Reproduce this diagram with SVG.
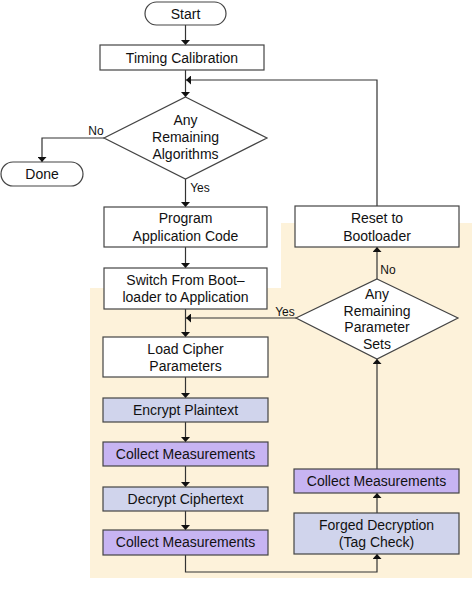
<svg xmlns="http://www.w3.org/2000/svg" width="474" height="604" viewBox="0 0 474 604">
<defs>
<style>
text{font-family:"Liberation Sans",Arial,sans-serif;font-size:14px;fill:#111;text-anchor:middle;dominant-baseline:central}
.lbl{font-size:12px}
.box{fill:#fff;stroke:#444;stroke-width:1.2}
.enc{fill:#d0d4ec;stroke:#444;stroke-width:1.2}
.col{fill:#c7b4f2;stroke:#444;stroke-width:1.2}
.ln{fill:none;stroke:#333;stroke-width:1.2}
</style>
<marker id="ah" viewBox="0 0 10 10" refX="10" refY="5" markerWidth="5" markerHeight="9" markerUnits="userSpaceOnUse" orient="auto" preserveAspectRatio="none">
<path d="M0,0 L10,5 L0,10 Z" fill="#111"/>
</marker>
</defs>
<rect width="474" height="604" fill="#fff"/>
<path d="M281,223 H472 V578 H90 V288 H281 Z" fill="#fdf2da"/>
<g id="connectors">
<line class="ln" x1="185.5" y1="25" x2="185.5" y2="45" marker-end="url(#ah)"/>
<line class="ln" x1="185.5" y1="70" x2="185.5" y2="97" marker-end="url(#ah)"/>
<polyline class="ln" points="377,206 377,80 186,80" marker-end="url(#ah)"/>
<polyline class="ln" points="104,138 42,138 42,162" marker-end="url(#ah)"/>
<line class="ln" x1="185.5" y1="179" x2="185.5" y2="207" marker-end="url(#ah)"/>
<line class="ln" x1="185.5" y1="247" x2="185.5" y2="268" marker-end="url(#ah)"/>
<line class="ln" x1="185.5" y1="309" x2="185.5" y2="337" marker-end="url(#ah)"/>
<line class="ln" x1="296" y1="318" x2="186" y2="318" marker-end="url(#ah)"/>
<line class="ln" x1="377" y1="279" x2="377" y2="247" marker-end="url(#ah)"/>
<line class="ln" x1="185.5" y1="377" x2="185.5" y2="398" marker-end="url(#ah)"/>
<line class="ln" x1="185.5" y1="422" x2="185.5" y2="442" marker-end="url(#ah)"/>
<line class="ln" x1="185.5" y1="466" x2="185.5" y2="487" marker-end="url(#ah)"/>
<line class="ln" x1="185.5" y1="511" x2="185.5" y2="530" marker-end="url(#ah)"/>
<polyline class="ln" points="185.5,555 185.5,572 377,572 377,554" marker-end="url(#ah)"/>
<line class="ln" x1="377" y1="513" x2="377" y2="493" marker-end="url(#ah)"/>
<line class="ln" x1="377" y1="469" x2="377" y2="359" marker-end="url(#ah)"/>
<text class="lbl" x="96" y="131">No</text>
<text class="lbl" x="200" y="188">Yes</text>
<text class="lbl" x="388" y="270">No</text>
<text class="lbl" x="285" y="312">Yes</text>
</g>
<g id="start"><rect class="box" x="145" y="2" width="81" height="23" rx="11.5"/><text x="185.5" y="14">Start</text></g>
<g id="timing"><rect class="box" x="100" y="45" width="164" height="25"/><text x="182" y="58">Timing Calibration</text></g>
<g id="dec1"><polygon class="box" points="185.5,97 267,138 185.5,179 104,138"/><text x="185.5" y="120">Any</text><text x="185.5" y="137">Remaining</text><text x="185.5" y="154">Algorithms</text></g>
<g id="done"><rect class="box" x="1" y="162" width="82" height="24" rx="12"/><text x="42" y="174">Done</text></g>
<g id="program"><rect class="box" x="104" y="207" width="163" height="40"/><text x="185.5" y="218">Program</text><text x="185.5" y="236">Application Code</text></g>
<g id="reset"><rect class="box" x="295" y="206" width="164" height="41"/><text x="377" y="218">Reset to</text><text x="377" y="236">Bootloader</text></g>
<g id="switch"><rect class="box" x="104" y="268" width="163" height="41"/><text x="185.5" y="280">Switch From Boot–</text><text x="185.5" y="297">loader to Application</text></g>
<g id="dec2"><polygon class="box" points="377,279 458,318 377,359 296,318"/><text x="377" y="294">Any</text><text x="377" y="311">Remaining</text><text x="377" y="327">Parameter</text><text x="377" y="344">Sets</text></g>
<g id="load"><rect class="box" x="103" y="337" width="165" height="40"/><text x="185.5" y="349">Load Cipher</text><text x="185.5" y="366">Parameters</text></g>
<g id="encrypt"><rect class="enc" x="103" y="398" width="165" height="24"/><text x="185.5" y="410">Encrypt Plaintext</text></g>
<g id="collect1"><rect class="col" x="103" y="442" width="165" height="24"/><text x="185.5" y="454">Collect Measurements</text></g>
<g id="decrypt"><rect class="enc" x="103" y="487" width="165" height="24"/><text x="185.5" y="499">Decrypt Ciphertext</text></g>
<g id="collect2"><rect class="col" x="103" y="530" width="165" height="25"/><text x="185.5" y="542">Collect Measurements</text></g>
<g id="collect3"><rect class="col" x="294" y="469" width="165" height="24"/><text x="376.5" y="481">Collect Measurements</text></g>
<g id="forged"><rect class="enc" x="294" y="513" width="165" height="41"/><text x="376.5" y="525">Forged Decryption</text><text x="376.5" y="542">(Tag Check)</text></g>
</svg>
